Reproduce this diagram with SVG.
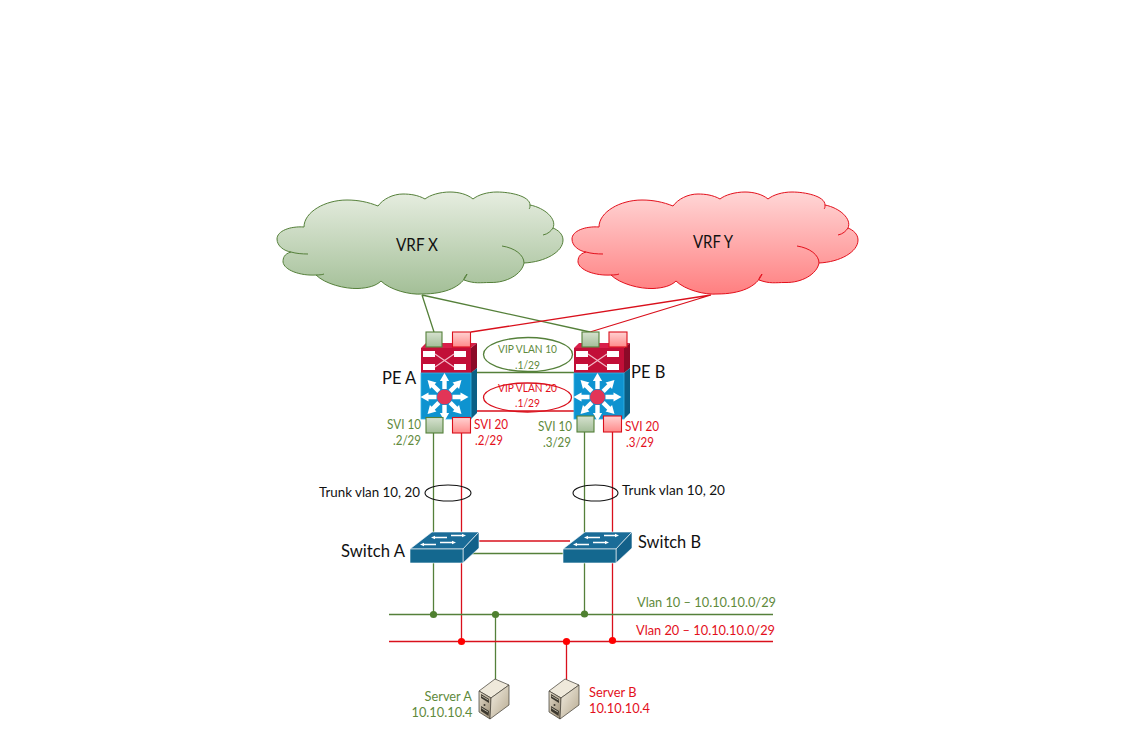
<svg xmlns="http://www.w3.org/2000/svg" xmlns:xlink="http://www.w3.org/1999/xlink" width="1134" height="756" viewBox="0 0 1134 756">
<style>
text{font-family:Lato,"Liberation Sans",sans-serif;fill:#111}
text.g{fill:#5f8a3c}
text.r{fill:#e3101c}
.s{font-size:12.8px}
.t{font-size:13.3px}
.b{font-size:16.5px}
.m{font-size:12px}
.lg{stroke:#55803a;stroke-width:1.3;fill:none}
.lr{stroke:#d9101c;stroke-width:1.3;fill:none}
.lk{stroke:#111;stroke-width:1.1;fill:none}
.pg{fill:url(#portG);stroke:#55803a;stroke-width:1.1}
.pr{fill:url(#portR);stroke:#d9101c;stroke-width:1.1}
.in{fill:none;stroke-width:1}
</style>
<defs>
<linearGradient id="cloudG" x1="0" y1="0" x2="0" y2="1"><stop offset="0" stop-color="#e6ede0"/><stop offset="1" stop-color="#a3bf97"/></linearGradient>
<linearGradient id="cloudR" x1="0" y1="0" x2="0" y2="1"><stop offset="0" stop-color="#ffd6d6"/><stop offset="1" stop-color="#ff7f80"/></linearGradient>
<linearGradient id="portG" x1="0" y1="0" x2="0" y2="1"><stop offset="0" stop-color="#d6e2cf"/><stop offset="1" stop-color="#a3bd98"/></linearGradient>
<linearGradient id="portR" x1="0" y1="0" x2="0" y2="1"><stop offset="0" stop-color="#ffd2d2"/><stop offset="1" stop-color="#ff8a8a"/></linearGradient>
<linearGradient id="srvL" x1="0" y1="0" x2="1" y2="1"><stop offset="0" stop-color="#e4dccb"/><stop offset="1" stop-color="#9d8f76"/></linearGradient>
<linearGradient id="srvR" x1="0" y1="0" x2="1" y2="1"><stop offset="0" stop-color="#f4efe4"/><stop offset="1" stop-color="#b6a98f"/></linearGradient>
<path id="cloudShape" d="M304,227C290,226 277,231 277,239C277,246 284,251 291,252C284,254 283,258 283,262C284,270 300,276 316,275C325,284 345,289 358,288.500C368,288 376,286 381,281C390,290 410,295 422,294C445,294 462,287 467,274C463,279 464,280 464,280C475,284 480,282.500 490,282.500C507,283 522,274 524,263C545,262 563,252 563,240C563,234 558,230 553,228C557,219 545,208 530,205C530,196 510,192 497,192C487,192 478,195 473,199C467,194 458,192 450,192C440,192 430,195 425,199C418,195 410,194 403,194C393,194 383,199 378,206C368,202 358,200 347,200C325,200 304,212 304,227Z"/>
<path id="cloudInner" d="M291,252C296,253.500 302,254 308,254M316,275C320,275 323,274.500 324,274M502,246C515,248 524,255 524,263M543,235C548,234 551,231 553,228M530,205C530,207 530,208 529,209"/>
<path id="ray" d="M8,-2.200L16,-2.200L16,-4.600L24,0L16,4.600L16,2.200L8,2.200Z" fill="#fff"/>
<g id="pe">
<path d="M421,348L426,343L477,343L471,348Z" fill="#d81e4a"/>
<path d="M471,348L477,343L477,368L471,373Z" fill="#8c0a28"/>
<rect x="421" y="348" width="50" height="25" fill="#c20f38"/>
<path d="M423,351h12v6h-12zM454,351h12v6h-12zM423,364h12v6h-12zM454,364h12v6h-12z" fill="#fff"/>
<path d="M435,354L454,367M435,367L454,354" stroke="#f2b8c6" stroke-width="1.200" fill="none"/>
<path d="M471,373L477,368L477,413L471,419Z" fill="#0b5f85"/>
<rect x="421" y="373" width="50" height="46" fill="#0e93d0" stroke="#35b5e5" stroke-width=".8"/>
<use xlink:href="#ray" href="#ray" transform="translate(444.500,397)"/>
<use xlink:href="#ray" href="#ray" transform="translate(444.500,397) rotate(45)"/>
<use xlink:href="#ray" href="#ray" transform="translate(444.500,397) rotate(90)"/>
<use xlink:href="#ray" href="#ray" transform="translate(444.500,397) rotate(135)"/>
<use xlink:href="#ray" href="#ray" transform="translate(444.500,397) rotate(180)"/>
<use xlink:href="#ray" href="#ray" transform="translate(444.500,397) rotate(225)"/>
<use xlink:href="#ray" href="#ray" transform="translate(444.500,397) rotate(270)"/>
<use xlink:href="#ray" href="#ray" transform="translate(444.500,397) rotate(315)"/>
<circle cx="444.500" cy="397" r="7.500" fill="#e23557"/>
</g>
<g id="sw">
<path d="M410,549L432,532L479,532L463,549Z" fill="#1a6c98" stroke="#fff" stroke-width=".6"/>
<path d="M463,549L479,532L479,548L463,563Z" fill="#13618a" stroke="#fff" stroke-width=".6"/>
<rect x="410" y="549" width="53" height="14" fill="#14688f" stroke="#fff" stroke-width=".6"/>
<path d="M434,537.500h13M451,535.500h12M423,544.500h13M440,542.500h13" stroke="#fff" stroke-width="1.300" fill="none"/>
<path d="M431,537.500l4,-1.800v3.600zM466,535.500l-4,-1.800v3.600zM420,544.500l4,-1.800v3.600zM456,542.500l-4,-1.800v3.600z" fill="#fff"/>
</g>
<g id="srv">
<path d="M479,691L495,679L509,685L491,698Z" fill="#efe9db" stroke="#3d3a30" stroke-width=".7"/>
<path d="M479,691L491,698L490,719L479,712Z" fill="url(#srvL)" stroke="#3d3a30" stroke-width=".7"/>
<path d="M491,698L509,685L509,705L490,719Z" fill="url(#srvR)" stroke="#3d3a30" stroke-width=".7"/>
<path d="M481,694L489,699L489,703L481,698ZM481,706L489,711L488.500,716L481,711Z" fill="#3c382e"/>
<path d="M481.500,696L488.500,700M481.500,708L488,712" stroke="#d8d2c0" stroke-width=".8" fill="none"/>
<circle cx="484.500" cy="705" r="1" fill="#3c382e"/>
</g>
</defs>

<g id="connectors">
<path class="lg" d="M422,295L434,332M422,295L590,332"/>
<path class="lr" d="M711,295L471,332M711,295L590,332"/>
<path class="lg" d="M462,372.500H590"/>
<path class="lr" d="M477,411H574"/>
<path class="lg" d="M433.500,433V615M584.500,432V614"/>
<path class="lr" d="M461.500,433V641M612.500,432V641"/>
<path class="lr" d="M479,541H570"/>
<path class="lg" d="M470,553.500H563"/>
<path class="lg" d="M389,614.500H773M495.500,614.500V680"/>
<path class="lr" d="M389,641.500H773M566.500,641.500V680"/>
</g>

<g id="vrf-x">
<use xlink:href="#cloudShape" href="#cloudShape" fill="url(#cloudG)" stroke="#55803a" stroke-width="1"/>
<use xlink:href="#cloudInner" href="#cloudInner" class="in" stroke="#55803a"/>
<text x="396" y="251" class="b" textLength="42" lengthAdjust="spacingAndGlyphs">VRF X</text>
</g>
<g id="vrf-y">
<use xlink:href="#cloudShape" href="#cloudShape" x="295" fill="url(#cloudR)" stroke="#e3101c" stroke-width="1"/>
<use xlink:href="#cloudInner" href="#cloudInner" x="295" class="in" stroke="#e3101c"/>
<text x="693" y="248" class="b" textLength="40" lengthAdjust="spacingAndGlyphs">VRF Y</text>
</g>

<g id="pe-a">
<use xlink:href="#pe" href="#pe"/>
<rect class="pg" x="426" y="332" width="16" height="15"/>
<rect class="pr" x="452.500" y="332" width="18" height="15"/>
<rect class="pg" x="426" y="417.500" width="17" height="15.500"/>
<rect class="pr" x="452.500" y="417.500" width="18" height="15.500"/>
<text x="382" y="384" class="b">PE A</text>
<text x="387" y="429" class="s g" textLength="34" lengthAdjust="spacingAndGlyphs">SVI 10</text>
<text x="393" y="445" class="s g" textLength="28" lengthAdjust="spacingAndGlyphs">.2/29</text>
<text x="474" y="429" class="s r" textLength="34" lengthAdjust="spacingAndGlyphs">SVI 20</text>
<text x="475" y="445" class="s r" textLength="28" lengthAdjust="spacingAndGlyphs">.2/29</text>
</g>
<g id="pe-b">
<use xlink:href="#pe" href="#pe" x="153"/>
<rect class="pg" x="582" y="332" width="17" height="15"/>
<rect class="pr" x="609" y="332" width="18" height="15"/>
<rect class="pg" x="577" y="416" width="17" height="16"/>
<rect class="pr" x="603.500" y="416" width="18" height="16"/>
<text x="631" y="378" class="b">PE B</text>
<text x="538" y="431" class="s g" textLength="34" lengthAdjust="spacingAndGlyphs">SVI 10</text>
<text x="543" y="447" class="s g" textLength="28" lengthAdjust="spacingAndGlyphs">.3/29</text>
<text x="625" y="431" class="s r" textLength="34" lengthAdjust="spacingAndGlyphs">SVI 20</text>
<text x="626" y="447" class="s r" textLength="28" lengthAdjust="spacingAndGlyphs">.3/29</text>
</g>

<g id="vip-10">
<ellipse class="lg" cx="528" cy="354.500" rx="44.500" ry="17"/>
<text x="498" y="353" class="m g" textLength="59" lengthAdjust="spacingAndGlyphs">VIP VLAN 10</text>
<text x="515" y="369" class="m g" textLength="25" lengthAdjust="spacingAndGlyphs">.1/29</text>
</g>
<g id="vip-20">
<ellipse class="lr" cx="527.500" cy="397.500" rx="44" ry="14.500"/>
<text x="498" y="392" class="m r" textLength="59" lengthAdjust="spacingAndGlyphs">VIP VLAN 20</text>
<text x="515" y="407" class="m r" textLength="25" lengthAdjust="spacingAndGlyphs">.1/29</text>
</g>

<g id="trunk-a">
<ellipse class="lk" cx="448" cy="493" rx="23" ry="8"/>
<text x="319" y="497" class="t" textLength="101" lengthAdjust="spacingAndGlyphs">Trunk vlan 10, 20</text>
</g>
<g id="trunk-b">
<ellipse class="lk" cx="595.500" cy="493" rx="22.500" ry="8"/>
<text x="622" y="495" class="t" textLength="103" lengthAdjust="spacingAndGlyphs">Trunk vlan 10, 20</text>
</g>

<g id="switch-a">
<use xlink:href="#sw" href="#sw"/>
<text x="341" y="557" class="b" textLength="64" lengthAdjust="spacingAndGlyphs">Switch A</text>
</g>
<g id="switch-b">
<use xlink:href="#sw" href="#sw" x="153"/>
<text x="638" y="548" class="b" textLength="63" lengthAdjust="spacingAndGlyphs">Switch B</text>
</g>

<g id="junctions">
<circle cx="433.500" cy="614.500" r="3.600" fill="#4f8030"/>
<circle cx="495.500" cy="614.500" r="3.600" fill="#4f8030"/>
<circle cx="584.500" cy="614" r="3.600" fill="#4f8030"/>
<circle cx="461.500" cy="641.500" r="3.600" fill="#f00"/>
<circle cx="566.500" cy="641.500" r="3.600" fill="#f00"/>
<circle cx="612.500" cy="640.500" r="3.600" fill="#f00"/>
</g>

<g id="vlan-10"><text x="637" y="607" class="s g" textLength="139" lengthAdjust="spacingAndGlyphs">Vlan 10 – 10.10.10.0/29</text></g>
<g id="vlan-20"><text x="636" y="634.500" class="s r" textLength="139" lengthAdjust="spacingAndGlyphs">Vlan 20 – 10.10.10.0/29</text></g>

<g id="server-a">
<use xlink:href="#srv" href="#srv"/>
<text x="472" y="701" text-anchor="end" class="s g">Server A</text>
<text x="472.500" y="717" text-anchor="end" class="s g">10.10.10.4</text>
</g>
<g id="server-b">
<use xlink:href="#srv" href="#srv" x="70"/>
<text x="589" y="697" class="s r">Server B</text>
<text x="589" y="713" class="s r">10.10.10.4</text>
</g>
</svg>
